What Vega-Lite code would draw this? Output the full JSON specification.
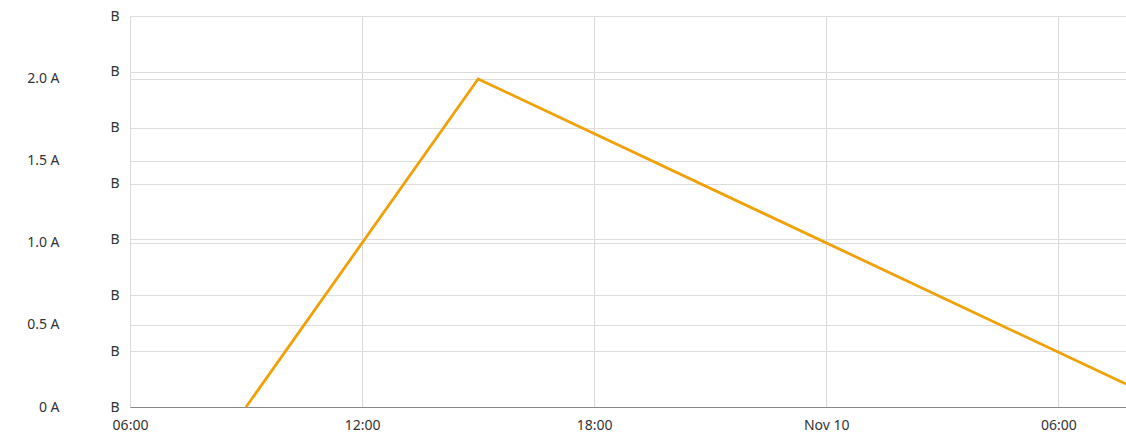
{
  "$schema": "https://vega.github.io/schema/vega-lite/v6.json",
  "width": 996,
  "height": 391,
  "autosize": {"type": "none"},
  "padding": {"left": 130, "top": 16, "right": 0, "bottom": 38},
  "data": {
    "values": [
      {"time": "2023-11-09T09:00:00", "current": 0},
      {"time": "2023-11-09T15:00:00", "current": 2.0},
      {"time": "2023-11-10T07:45:00", "current": 0.14}
    ]
  },
  "layer": [
    {
      "mark": {"type": "line", "color": "#f0a108", "strokeWidth": 2.8},
      "encoding": {
        "x": {
          "field": "time",
          "type": "temporal",
          "title": null,
          "scale": {
            "domain": [
              {"year": 2023, "month": 11, "date": 9, "hours": 6},
              {"year": 2023, "month": 11, "date": 10, "hours": 7, "minutes": 45}
            ]
          },
          "axis": {
            "values": [
              {"year": 2023, "month": 11, "date": 9, "hours": 6},
              {"year": 2023, "month": 11, "date": 9, "hours": 12},
              {"year": 2023, "month": 11, "date": 9, "hours": 18},
              {"year": 2023, "month": 11, "date": 10, "hours": 0},
              {"year": 2023, "month": 11, "date": 10, "hours": 6}
            ],
            "labelExpr": "hours(datum.value) == 0 ? timeFormat(datum.value, '%b %d') : timeFormat(datum.value, '%H:%M')",
            "labelFlush": false,
            "labelOverlap": false,
            "ticks": false,
            "labelPadding": 11,
            "domainColor": "#888888",
            "grid": true,
            "gridColor": "#d9d9d9"
          }
        },
        "y": {
          "field": "current",
          "type": "quantitative",
          "title": null,
          "scale": {"domain": [0, 2.384], "nice": false},
          "axis": {
            "orient": "left",
            "values": [0, 0.5, 1, 1.5, 2],
            "labelExpr": "(datum.value == 0 ? '0' : format(datum.value, '.1f')) + ' A'",
            "offset": 60,
            "labelPadding": 11,
            "ticks": false,
            "domain": false,
            "grid": true,
            "gridColor": "#dddddd"
          }
        }
      }
    },
    {
      "mark": {"type": "line", "opacity": 0},
      "encoding": {
        "x": {"field": "time", "type": "temporal"},
        "y": {
          "field": "current",
          "type": "quantitative",
          "scale": {"domain": [0, 7], "nice": false},
          "axis": {
            "orient": "left",
            "title": null,
            "values": [0, 1, 2, 3, 4, 5, 6, 7],
            "labelExpr": "'B'",
            "labelPadding": 11,
            "ticks": false,
            "domain": false,
            "grid": true,
            "gridColor": "#dddddd"
          }
        }
      }
    }
  ],
  "resolve": {"scale": {"y": "independent"}},
  "config": {
    "view": {"stroke": null},
    "axis": {
      "labelFont": "Noto Sans",
      "labelFontSize": 14,
      "labelColor": "#333333"
    }
  }
}
